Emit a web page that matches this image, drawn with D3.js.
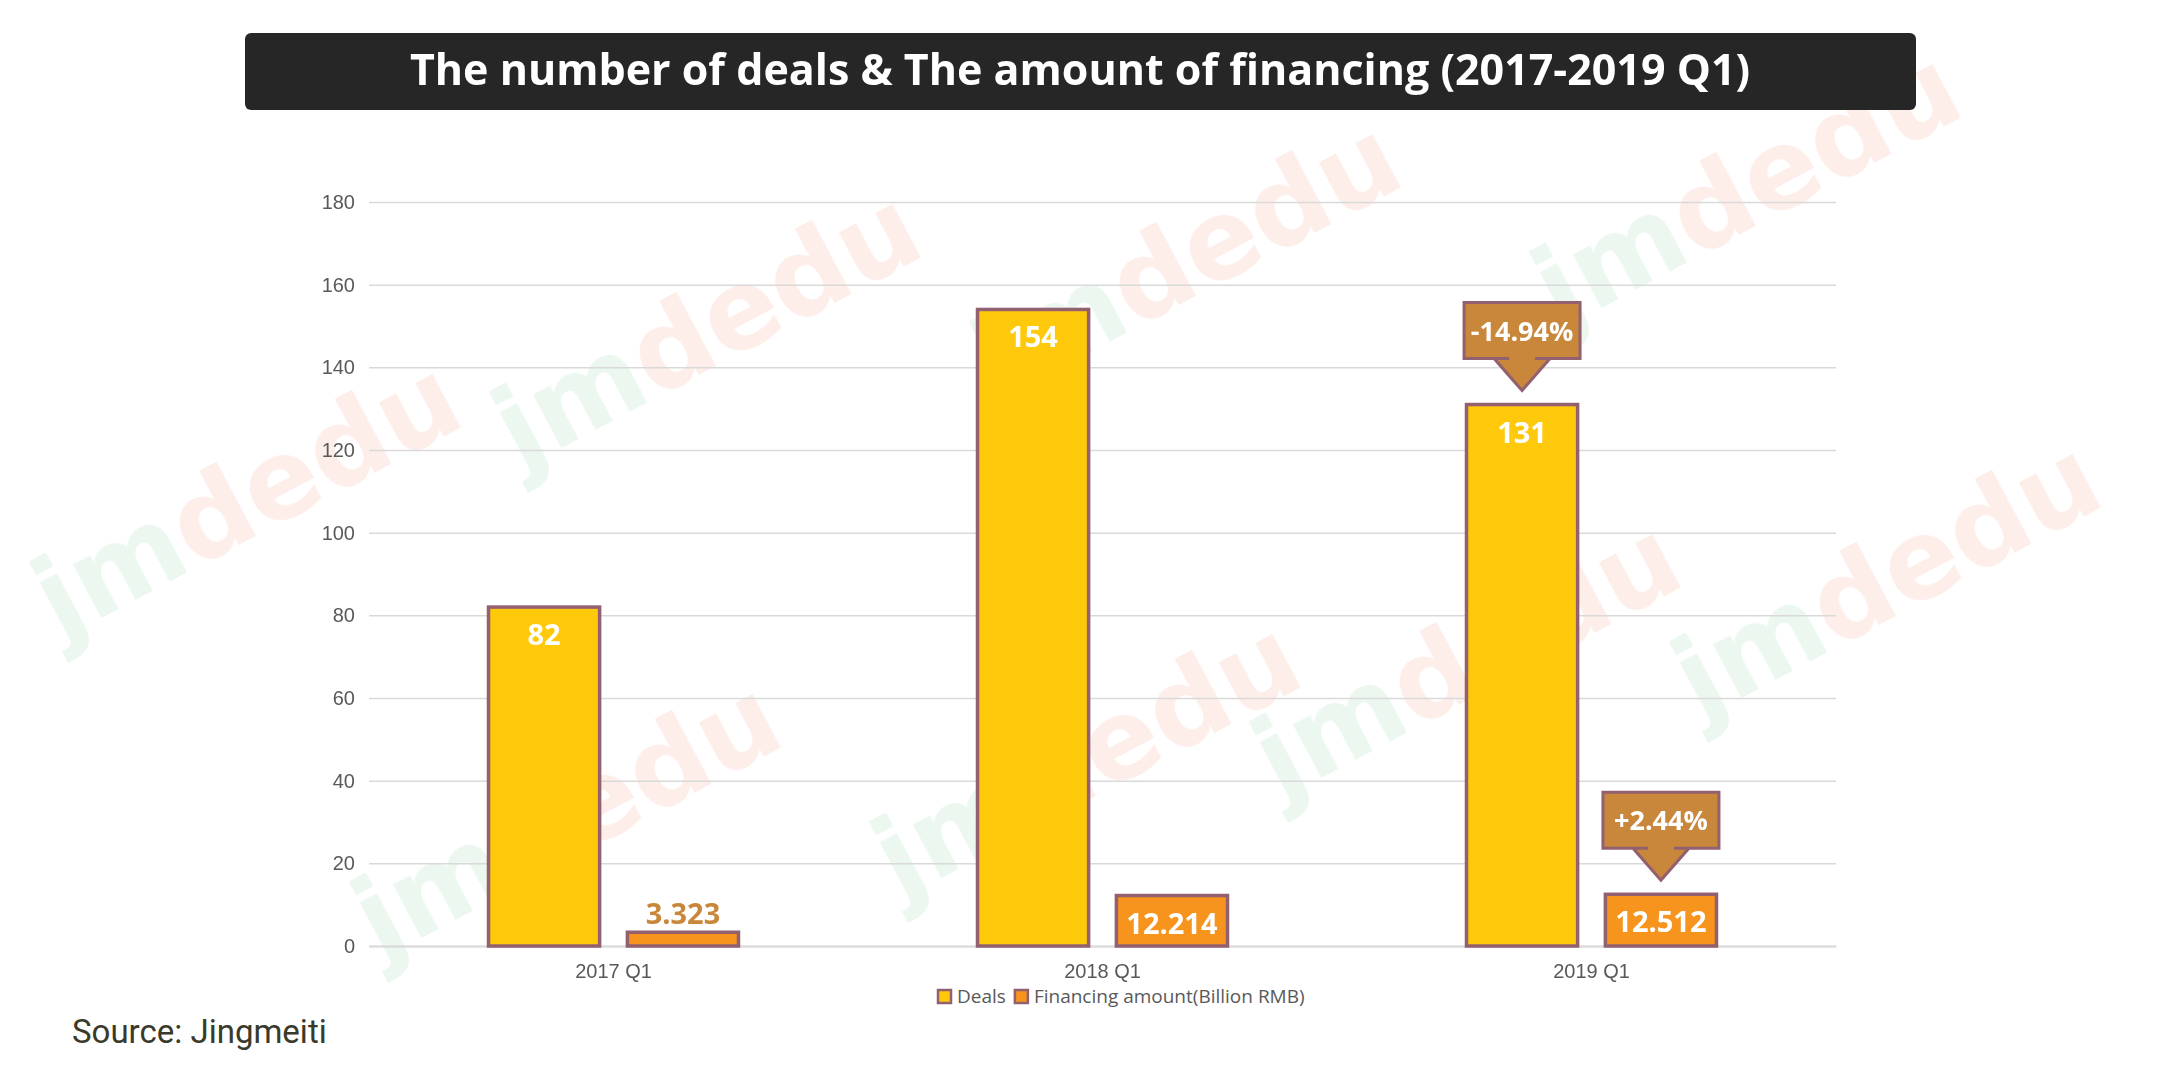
<!DOCTYPE html>
<html><head><meta charset="utf-8">
<script src="https://cdn.jsdelivr.net/npm/d3@7"></script>
<style>body{margin:0;background:#fff;}svg{display:block;font-family:"Open Sans",sans-serif;}</style>
</head><body>
<div id="chart"></div>
<script>
// chart data
var categories = ['2017 Q1', '2018 Q1', '2019 Q1'];
var deals = [82, 154, 131];
var financing = [3.323, 12.214, 12.512];
var financingLabels = ['3.323', '12.214', '12.512'];
var yTicks = [0, 20, 40, 60, 80, 100, 120, 140, 160, 180];
var callouts = [
  {cat: '2019 Q1', series: 'deals', text: '-14.94%'},
  {cat: '2019 Q1', series: 'financing', text: '+2.44%'}
];

var width = 2160, height = 1080;
var svg = d3.select('#chart').append('svg')
    .attr('width', width).attr('height', height);

// faint watermark, kept inside the frame
var wm = svg.append('g').attr('opacity', 0.5);
[[60,640],[520,470],[1000,400],[1560,330],[1700,720],[380,960],[900,900],[1280,800]]
  .forEach(function(p) {
    var t = wm.append('text')
      .attr('transform', 'translate(' + p[0] + ',' + p[1] + ')rotate(-28)')
      .attr('font-size', 110).attr('font-weight', 'bold')
      .attr('font-family', 'DejaVu Sans');
    t.append('tspan').attr('fill', '#d6efdf').text('jm');
    t.append('tspan').attr('fill', '#fadcd3').text('dedu');
  });

// title
svg.append('rect').attr('x', 245).attr('y', 33).attr('width', 1671).attr('height', 77)
    .attr('rx', 6).attr('fill', '#262626');
svg.append('text').attr('x', 1080).attr('y', 85).attr('text-anchor', 'middle')
    .attr('fill', '#fff').attr('font-size', 43).attr('font-weight', 'bold')
    .text('The number of deals & The amount of financing (2017-2019 Q1)');

var x0 = d3.scaleBand().domain(categories).range([369, 1836]);
var x1 = d3.scaleBand().domain(['deals', 'financing']).range([0, 250]).paddingInner(0.2);
var bandOff = (x0.bandwidth() - 250) / 2;
var y = d3.scaleLinear().domain([0, 180]).range([946, 202]);

// grid + y axis
var yAxis = svg.append('g').attr('transform', 'translate(369,0)')
    .call(d3.axisLeft(y).tickValues(yTicks).tickSize(-1467).tickPadding(14));
yAxis.select('.domain').remove();
yAxis.selectAll('.tick line').attr('stroke', '#d9d9d9').attr('stroke-width', 1.5);
yAxis.selectAll('.tick text').attr('fill', '#595959').attr('font-size', 20);

var xAxis = svg.append('g').attr('transform', 'translate(0,946)')
    .call(d3.axisBottom(x0).tickSize(0).tickPadding(18));
xAxis.select('.domain').attr('stroke', '#d9d9d9').attr('stroke-width', 2);
xAxis.selectAll('.tick text').attr('fill', '#595959').attr('font-size', 20);

var stroke = '#936070';
var series = [
  {key: 'deals', values: deals, fill: '#ffc90b'},
  {key: 'financing', values: financing, fill: '#f7941d'}
];

series.forEach(function(s) {
  svg.append('g').selectAll('rect').data(s.values).join('rect')
    .attr('x', function(d, i) { return x0(categories[i]) + bandOff + x1(s.key); })
    .attr('y', function(d) { return y(d); })
    .attr('width', x1.bandwidth())
    .attr('height', function(d) { return y(0) - y(d); })
    .attr('fill', s.fill).attr('stroke', stroke).attr('stroke-width', 3.5);
});

// labels
svg.append('g').selectAll('text').data(deals).join('text')
  .attr('x', function(d, i) { return x0(categories[i]) + bandOff + x1('deals') + x1.bandwidth() / 2; })
  .attr('y', function(d) { return y(d) + 38; })
  .attr('text-anchor', 'middle').attr('fill', '#fff')
  .attr('font-size', 29).attr('font-weight', 'bold').text(function(d) { return d; });

svg.append('g').selectAll('text').data(financing).join('text')
  .attr('x', function(d, i) { return x0(categories[i]) + bandOff + x1('financing') + x1.bandwidth() / 2; })
  .attr('y', function(d) { return d < 8 ? y(d) - 8 : y(d) + 38; })
  .attr('text-anchor', 'middle')
  .attr('fill', function(d) { return d < 8 ? '#c8873a' : '#fff'; })
  .attr('font-size', 29).attr('font-weight', 'bold')
  .text(function(d, i) { return financingLabels[i]; });

// callouts (arrow boxes pointing down at bar tops)
callouts.forEach(function(c) {
  var vals = c.series === 'deals' ? deals : financing;
  var v = vals[categories.indexOf(c.cat)];
  var cx = x0(c.cat) + bandOff + x1(c.series) + x1.bandwidth() / 2;
  var tip = y(v) - 14;
  var bw = 116, bh = 56, arrowH = 32, sw = 13, aw = 28;
  var top = tip - arrowH - bh, bot = tip - arrowH;
  var pts = [[cx - bw / 2, top], [cx + bw / 2, top], [cx + bw / 2, bot], [cx + sw, bot],
    [cx + aw, bot], [cx, tip], [cx - aw, bot], [cx - sw, bot], [cx - bw / 2, bot]];
  svg.append('path').attr('d', d3.line()(pts) + 'Z')
    .attr('fill', '#c8873a').attr('stroke', stroke).attr('stroke-width', 3);
  svg.append('text').attr('x', cx).attr('y', top + 38).attr('text-anchor', 'middle')
    .attr('fill', '#fff').attr('font-size', 27).attr('font-weight', 'bold').text(c.text);
});

// legend
var legend = svg.append('g').attr('transform', 'translate(938,1003)');
var lx = 0;
[{name: 'Deals', fill: '#ffc90b'}, {name: 'Financing amount(Billion RMB)', fill: '#f7941d'}].forEach(function(l) {
  legend.append('rect').attr('x', lx).attr('y', -13).attr('width', 13).attr('height', 13)
    .attr('fill', l.fill).attr('stroke', stroke).attr('stroke-width', 2.5);
  var t = legend.append('text').attr('x', lx + 19).attr('y', 0)
    .attr('fill', '#595959').attr('font-size', 19).text(l.name);
  lx += 19 + t.node().getComputedTextLength() + 9;
});

svg.append('text').attr('x', 72).attr('y', 1043).attr('fill', '#3a3a2a')
  .attr('font-size', 33).attr('font-family', 'Roboto, sans-serif').text('Source: Jingmeiti');
</script>
</body></html>
